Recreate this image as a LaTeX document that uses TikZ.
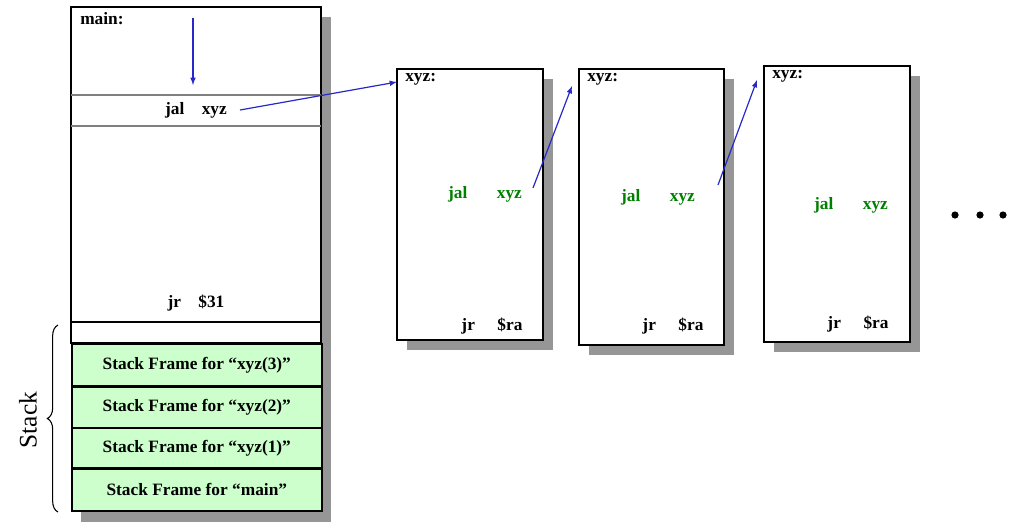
\documentclass[tikz,border=0pt]{standalone}
\usepackage{fontspec}
\setmainfont{Liberation Serif}
\usetikzlibrary{decorations.pathreplacing}
\definecolor{fgreen}{RGB}{204,255,204}
\definecolor{tgreen}{RGB}{0,128,0}
\definecolor{ablue}{RGB}{40,40,200}
\definecolor{shad}{RGB}{150,150,150}
\tikzset{
 px/.style={x=0.75pt,y=-0.75pt},
 shbox/.style={draw=black,line width=1.2pt,fill=white},
 lbl/.style={font=\bfseries\fontsize{13}{15}\selectfont,inner sep=0pt},
 glbl/.style={lbl,text=tgreen},
 arr/.style={draw=ablue,line width=0.9pt,-latex},
 frame/.style={draw=black,line width=1.2pt,fill=fgreen,font=\bfseries\fontsize{13}{15}\selectfont}
}
\begin{document}
\begin{tikzpicture}[px]
\useasboundingbox (0,0) rectangle (1024,522);
% shadows
\fill[shad] (81,17) rectangle (331,522);
\fill[shad] (407,79) rectangle (553,350);
\fill[shad] (589,79) rectangle (734,355);
\fill[shad] (774,76) rectangle (920,352);
% main box
\draw[shbox] (71,7) rectangle (321,322);
\draw[shbox] (71,322) rectangle (321,343);
\draw[gray,line width=1.2pt] (71,95) -- (321,95);
\draw[gray,line width=1.2pt] (71,126) -- (321,126);
\node[lbl,anchor=north west] (m) at (80,12) {main:};
\coordinate (a0) at (193,18);
\coordinate (a1) at (193,85);
\draw[arr] (a0) -- (a1);
\node[lbl] (jal0) at (196,110) {jal\hspace{1em}xyz};
\node[lbl] (jr0) at (196,303) {jr\hspace{1em}\$31};
% stack frames
\node[frame,minimum width=250*0.75pt,minimum height=42*0.75pt,anchor=north west] (s3) at (71,343) {Stack Frame for “xyz(3)”};
\node[frame,minimum width=250*0.75pt,minimum height=41*0.75pt,anchor=north west] (s2) at (71,386) {Stack Frame for “xyz(2)”};
\node[frame,minimum width=250*0.75pt,minimum height=40*0.75pt,anchor=north west] (s1) at (71,427) {Stack Frame for “xyz(1)”};
\node[frame,minimum width=250*0.75pt,minimum height=42*0.75pt,anchor=north west] (sm) at (71,468) {Stack Frame for “main”};
\draw[decorate,decoration={brace,amplitude=8pt},line width=0.8pt] (58,512) -- (58,325);
\node[rotate=90,font=\fontsize{19}{22}\selectfont] (st) at (28,420) {Stack};
% xyz boxes
\draw[shbox] (397,69) rectangle (543,340);
\draw[shbox] (579,69) rectangle (724,345);
\draw[shbox] (764,66) rectangle (910,342);
\node[lbl,anchor=north west] (x1) at (405,73) {xyz:};
\node[lbl,anchor=north west] (x2) at (587,73) {xyz:};
\node[lbl,anchor=north west] (x3) at (772,70) {xyz:};
\node[glbl] (g1) at (485,194) {jal\hspace{1.7em}xyz};
\node[glbl] (g2) at (658,197) {jal\hspace{1.7em}xyz};
\node[glbl] (g3) at (851,205) {jal\hspace{1.7em}xyz};
\node[lbl] (r1) at (492,326) {jr\hspace{1.3em}\$ra};
\node[lbl] (r2) at (673,326) {jr\hspace{1.3em}\$ra};
\node[lbl] (r3) at (858,324) {jr\hspace{1.3em}\$ra};
\coordinate (b0) at (240,110); \coordinate (b1) at (397,82);
\coordinate (c0) at (533,188); \coordinate (c1) at (572,86);
\coordinate (d0) at (718,185); \coordinate (d1) at (757,80);
\draw[arr] (b0) -- (b1);
\draw[arr] (c0) -- (c1);
\draw[arr] (d0) -- (d1);
\foreach \x in {955,980,1003} \fill (\x,215) circle (3.6);
\end{tikzpicture}
\end{document}
